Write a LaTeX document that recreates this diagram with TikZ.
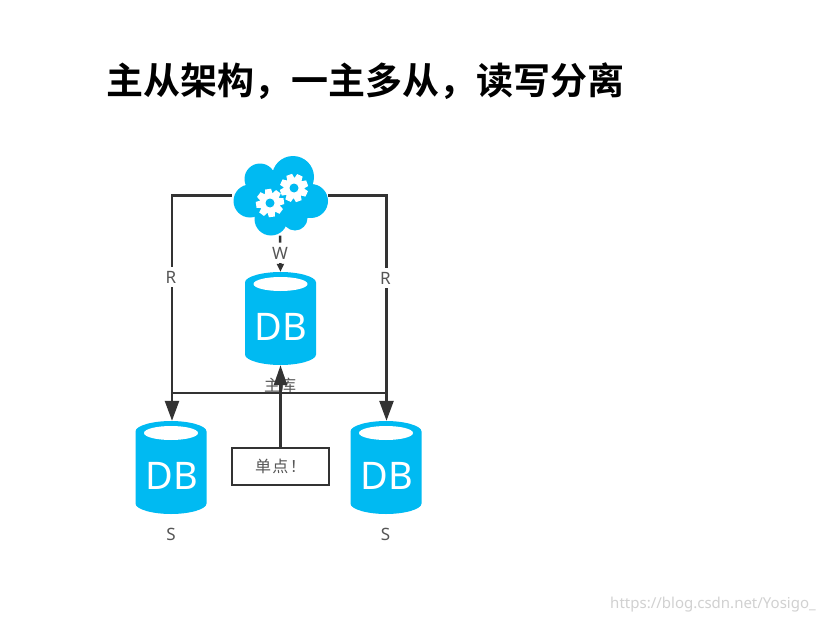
\documentclass[tikz,border=0pt]{standalone}
\usepackage{fontspec}
\setmainfont{Noto Sans}
\newfontfamily\cjk{Noto Sans CJK SC}
\newfontfamily\cjkb{Noto Sans CJK SC}[BoldFont={Noto Sans CJK SC Bold}]
\usetikzlibrary{arrows.meta}
\definecolor{dbblue}{HTML}{00BAF2}
\definecolor{lineg}{HTML}{333333}
\definecolor{labelg}{HTML}{555555}
\tikzset{
  dbnode/.style={rectangle,draw=none,minimum width=71pt,minimum height=93pt,inner sep=0pt},
  dbtext/.style={inner sep=0pt,text=white,font=\fontsize{38}{38}\selectfont},
  conn/.style={draw=lineg,line width=2.5pt},
  bigtip/.style={-{Triangle[length=20pt,width=14pt]}},
  lab/.style={text=labelg,font=\fontsize{17}{17}\selectfont,inner sep=0pt},
  cutlab/.style={lab,fill=white,inner xsep=1pt,inner ysep=4pt},
  cjklab/.style={text=labelg,font=\cjk\fontsize{16}{16}\selectfont,inner sep=0pt},
  gearpart/.style={fill=white,draw=none},
}
\newcommand{\mygear}[3]{%
  \fill[gearpart] (#1,#2) circle (10.5);
  \foreach \a in {0,45,...,315}{
    \fill[gearpart,shift={(#1,#2)},rotate=\a+#3] (-3,-14) -- (3,-14) -- (4,-8) -- (-4,-8) -- cycle;
  }
  \fill[dbblue] (#1,#2) circle (4.5);
}
\newcommand{\mydb}[2]{%
  \fill[dbblue] (#1-35.5,#2-36) -- (#1-35.5,#2+36)
    .. controls (#1-35.5,#2+42) and (#1-18,#2+46.5) .. (#1,#2+46.5)
    .. controls (#1+18,#2+46.5) and (#1+35.5,#2+42) .. (#1+35.5,#2+36)
    -- (#1+35.5,#2-36)
    .. controls (#1+35.5,#2-42) and (#1+18,#2-46.5) .. (#1,#2-46.5)
    .. controls (#1-18,#2-46.5) and (#1-35.5,#2-42) .. (#1-35.5,#2-36) -- cycle;
  \fill[white] (#1,#2-34.5) ellipse (27 and 7);
}
\begin{document}
\begin{tikzpicture}[x=1pt,y=-1pt]
\useasboundingbox (0,0) rectangle (824,623);
\fill[white] (0,0) rectangle (824,623);
% title
\node[anchor=west,inner sep=0pt,font=\cjkb\bfseries\fontsize{37}{37}\selectfont,text=black] (title) at (106,81) {主从架构，一主多从，读写分离};
% label under the lines
\node[cjklab] (mainlab) at (280,385) {主库};
% databases
\mydb{280.5}{318.5}
\mydb{171}{467.5}
\mydb{386}{467.5}
\node[dbnode] (master) at (280.5,318.5) {};
\node[dbnode] (left) at (171,467.5) {};
\node[dbnode] (right) at (386,467.5) {};
\node[dbtext] (masterdb) at (281,327) {DB};
\node[dbtext] (leftdb) at (171.5,476) {DB};
\node[dbtext] (rightdb) at (386.5,476) {DB};
% cloud
\node[minimum width=96pt,minimum height=80pt,inner sep=0pt] (cloud) at (280,195.5) {};
\fill[dbblue] (260,179) circle (15.5);
\fill[dbblue] (293,177) circle (21);
\fill[dbblue] (250,201) circle (16.5);
\fill[dbblue] (311,201) circle (17);
\fill[dbblue] (271,219) circle (16.5);
\fill[dbblue] (295,218) circle (12.5);
\fill[dbblue] (255,175) rectangle (310,218);
\mygear{270}{203}{8}
\mygear{294}{188}{20}
% box
\node[draw=lineg,line width=2.5pt,minimum width=97pt,minimum height=37pt,inner sep=0pt,
  text=labelg,font=\cjk\fontsize{16}{16}\selectfont\addfontfeature{LetterSpace=8}] (box) at (280.5,466.5) {单点！};
% connectors
\coordinate (jl) at (172,393);
\coordinate (jr) at (386.5,393);
\draw[conn,bigtip,line join=miter] (cloud.west) -| (left.north -| jl);
\draw[conn,bigtip,line join=miter] (cloud.east) -| (right.north -| jr);
\draw[conn] (jl) -- (jr);
\draw[conn,-{Triangle[length=20pt,width=13pt]}] (box.north) -- (master.south);
\draw[draw=lineg,line width=2.5pt,dash pattern=on 7pt off 5pt,-{Triangle[length=8pt,width=7pt]}] (cloud.south) -- (master.north);
% labels
\node[cutlab] (wl) at (280,253) {W};
\node[cutlab] (rl) at (171,277) {R};
\node[cutlab] (rr) at (385.5,278) {R};
\node[lab] (sl) at (171,534) {S};
\node[lab] (sr) at (385.5,534) {S};
% watermark
\node[anchor=east,inner sep=0pt,text=black!18,font=\fontsize{15}{15}\selectfont] (mark) at (816,605) {https://blog.csdn.net/Yosigo\_};
\end{tikzpicture}
\end{document}
